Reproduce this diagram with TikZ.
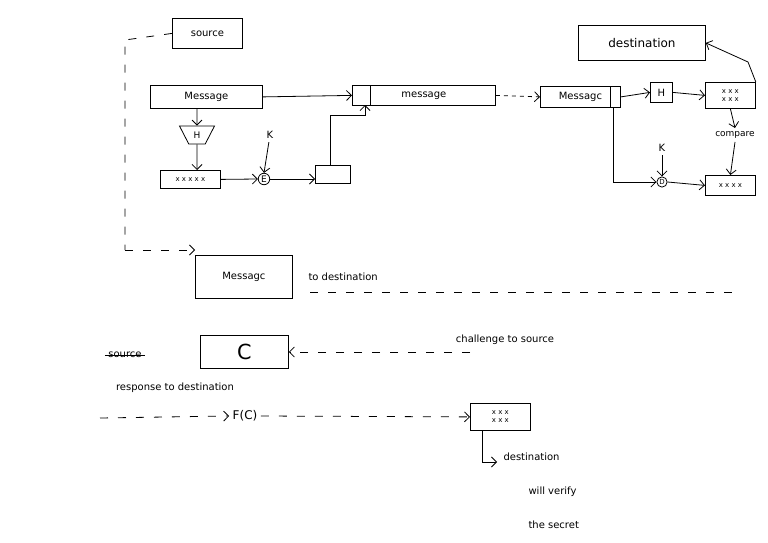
\documentclass[tikz,border=0pt]{standalone}
\usepackage{fontspec}
\setmainfont{DejaVu Sans}
\usetikzlibrary{arrows.meta,shapes.geometric}
\begin{document}
\begin{tikzpicture}[x=1pt,y=-1pt,
  box/.style={draw,thick,inner sep=0pt,anchor=north west},
  hatch/.style={draw,thick,anchor=north west,inner sep=0pt,font=\scriptsize,align=center},
  arr/.style={thick,-{Straight Barb[length=5pt]}},
  dsh/.style={thick,dash pattern=on 8pt off 10pt},
  lbl/.style={font=\normalsize},
  trap/.style={draw,thick,trapezium,shape border rotate=180,trapezium stretches=true,font=\small,inner sep=1pt}]
\useasboundingbox (0,0) rectangle (768,543);
% left part
\node[box,minimum width=70pt,minimum height=30pt] (src) at (172,18) {source};
\coordinate (s1) at (125,40); \coordinate (s2) at (125,250);
\draw[dsh] (src.west) -- (s1) -- (s2);
\node[box,minimum width=97pt,minimum height=43pt] (m4) at (195,255) {Messagc};
\draw[dsh,arr] (s2) -- (m4.west|-s2);
\node[box,minimum width=112pt,minimum height=23pt] (m1) at (150,85) {Message};
\node[trap,minimum width=35pt,minimum height=18pt] (h1) at (197,135) {H};
\node[hatch,minimum width=60pt,minimum height=18pt] (x1) at (160,170) {x x x x x};
\node[draw,thick,circle,inner sep=1pt,font=\small] (e) at (264,179) {E};
\node[lbl] (k1) at (270,135) {K};
\node[box,minimum width=35pt,minimum height=18pt] (b1) at (315,165) {};
\draw[arr] (m1.south-|h1) -- (h1.north);
\draw[arr] (h1.south) -- (x1.north-|h1);
\draw[arr] (x1.east) -- (e.west);
\draw[arr] (k1) -- (e.north);
\draw[arr] (e.east) -- (e.east-|b1.west);
% message 2
\node[box,minimum width=143pt,minimum height=20pt] (m2) at (352,85) {message};
\draw[thick] (370,85) -- (370,105);
\draw[arr] (m1.east) -- (m2.west);
\coordinate (c1) at (330,115); \coordinate (c2) at (365,115);
\draw[arr] (b1.north-|c1) -- (c1) -- (c2) -- (365,105);
% right part
\node[box,minimum width=80pt,minimum height=21pt] (m3) at (540,86) {Messagc};
\draw[thick] (610,86) -- (610,107);
\draw[thick,dash pattern=on 4pt off 4pt,-{Straight Barb[length=5pt]}] (m2.east) -- (m3.west);
\node[box,minimum width=22pt,minimum height=20pt] (h2) at (650,82) {H};
\node[hatch,minimum width=50pt,minimum height=26pt] (x2) at (705,82) {x x x\\x x x};
\node[hatch,minimum width=50pt,minimum height=20pt] (x3) at (705,175) {x x x x};
\node[box,minimum width=127pt,minimum height=35pt,font=\large] (dst) at (578,25) {destination};
\draw[arr] (m3.east) -- (h2.west);
\draw[arr] (h2.east) -- (x2.west);
\node[font=\small] (cmp) at (735,135) {compare};
\draw[arr] (x2.south) -- (cmp.north);
\draw[arr] (cmp.south) -- (x3.north);
\node[draw,thick,circle,inner sep=1pt,font=\scriptsize] (d) at (662,182) {D};
\node[lbl] (k2) at (662,148) {K};
\draw[arr] (k2) -- (d.north);
\coordinate (c3) at (613,182);
\draw[arr] (613,107) -- (c3) -- (d.west);
\draw[arr] (d.east) -- (x3.west);
\coordinate (c4) at (748,62);
\draw[arr] (x2.north east) -- (c4) -- (dst.east);
% bottom
\node[lbl,anchor=west] (td) at (305,277) {to destination};
\coordinate (l1) at (310,292); \coordinate (l2) at (740,292);
\draw[dsh] (l1) -- (l2);
\node[box,minimum width=88pt,minimum height=33pt,font=\huge] (cb) at (200,335) {C};
\node[lbl] (sx) at (125,355) {source};
\draw[thick] (sx.west) -- (sx.east);
\node[lbl] (ch) at (505,340) {challenge to source};
\draw[dsh,arr] (470,352) -- (cb.east|-0,352);
\node[lbl] (rd) at (175,388) {response to destination};
\node[font=\large] (fc) at (245,416) {F(C)};
\coordinate (r1) at (100,418);
\draw[dsh,arr] (r1) -- (fc.west);
\node[box,minimum width=60pt,minimum height=27pt,font=\scriptsize,align=center] (x4) at (470,403) {x x x\\x x x};
\draw[dsh,arr] (fc.east) -- (x4.west);
\coordinate (c5) at (482,462);
\draw[arr] (x4.south-|c5) -- (c5) -- (497,462);
\node[lbl,anchor=west] (t1) at (500,457) {destination};
\node[lbl,anchor=west] (t2) at (525,492) {will verify};
\node[lbl,anchor=west] (t3) at (525,525) {the secret};
\end{tikzpicture}
\end{document}
